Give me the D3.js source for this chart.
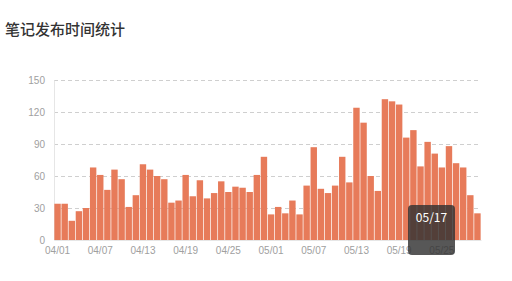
<!DOCTYPE html>
<html>
<head>
<meta charset="utf-8">
<script src="https://cdn.jsdelivr.net/npm/d3@7"></script>
<style>
  body { margin: 0; background: #fff; }
  svg { display: block; font-family: "Noto Sans CJK SC", "Noto Sans", sans-serif; }
</style>
</head>
<body>
<div id="chart"></div>
<script>
// daily note counts, 04/01 .. 05/30
const aprilDays = d3.range(1, 31).map(d => "04/" + String(d).padStart(2, "0"));
const mayDays = d3.range(1, 31).map(d => "05/" + String(d).padStart(2, "0"));
const dates = aprilDays.concat(mayDays);

const counts = [
  34, 34, 18, 27, 30, 68, 61, 47, 66, 57,
  31, 42, 71, 66, 60, 57, 35, 37, 61, 41,
  56, 39, 44, 55, 45, 50, 49, 45, 61, 78,
  24, 31, 25, 37, 24, 51, 87, 48, 44, 51,
  78, 54, 124, 110, 60, 46, 132, 130, 127, 96,
  103, 69, 92, 81, 68, 88, 72, 68, 42, 25
];

const yTicks = [0, 30, 60, 90, 120, 150];
const xTickLabels = ["04/01", "04/07", "04/13", "04/19", "04/25", "05/01", "05/07", "05/13", "05/19", "05/25"];

const width = 512, height = 281;
const margin = {top: 80, right: 31, bottom: 41, left: 54};

const svg = d3.select("#chart")
  .append("svg")
  .attr("width", width)
  .attr("height", height);

svg.append("rect").attr("width", width).attr("height", height).attr("fill", "#fff");

// title
svg.append("text")
  .attr("x", 5)
  .attr("y", 35)
  .attr("font-size", 15)
  .attr("font-weight", 500)
  .attr("fill", "#333")
  .text("笔记发布时间统计");

const x = d3.scaleBand()
  .domain(dates)
  .range([margin.left, width - margin.right])
  .paddingInner(0.1)
  .paddingOuter(0.05);

const y = d3.scaleLinear()
  .domain([0, 150])
  .range([height - margin.bottom, margin.top]);

// dashed grid
svg.append("g")
  .selectAll("line")
  .data(yTicks.filter(d => d > 0))
  .enter()
  .append("line")
  .attr("x1", margin.left)
  .attr("x2", width - margin.right)
  .attr("y1", d => y(d) + 0.5)
  .attr("y2", d => y(d) + 0.5)
  .attr("stroke", "#cfcfcf")
  .attr("stroke-dasharray", "4,3");

// y axis
const yAxis = svg.append("g")
  .attr("transform", `translate(${margin.left},0)`)
  .call(d3.axisLeft(y).tickValues(yTicks).tickSize(0).tickPadding(9));
yAxis.select(".domain").attr("stroke", "#e6e6e6");
yAxis.selectAll("text").attr("fill", "#a0a0a0").attr("font-size", 10);

// bars
svg.append("g")
  .selectAll("rect")
  .data(counts)
  .enter()
  .append("rect")
  .attr("x", (d, i) => x(dates[i]))
  .attr("y", d => y(d))
  .attr("width", x.bandwidth())
  .attr("height", d => y(0) - y(d))
  .attr("fill", "#e77b5a");

// x axis
const xAxis = svg.append("g")
  .attr("transform", `translate(0,${height - margin.bottom})`)
  .call(d3.axisBottom(x).tickValues(xTickLabels).tickSize(0).tickPadding(7));
xAxis.select(".domain").attr("stroke", "#e6e6e6");
xAxis.selectAll("text").attr("fill", "#a0a0a0").attr("font-size", 10);

// hover tooltip shown in the reference
const tip = svg.append("g").attr("transform", "translate(408,205)");
tip.append("rect")
  .attr("width", 47)
  .attr("height", 50)
  .attr("rx", 4)
  .attr("fill", "rgba(50,50,50,0.82)");
tip.append("text")
  .attr("x", 23.5)
  .attr("y", 17)
  .attr("text-anchor", "middle")
  .attr("font-size", 12)
  .attr("fill", "#fff")
  .text("05/17");
</script>
</body>
</html>
